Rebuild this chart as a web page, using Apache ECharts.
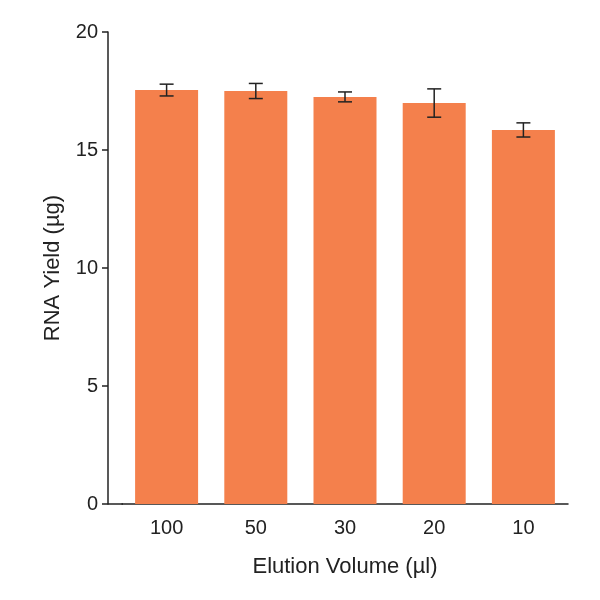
<!DOCTYPE html>
<html><head><meta charset="utf-8">
<script src="https://cdn.jsdelivr.net/npm/echarts@6/dist/echarts.min.js"></script>
<style>html,body{margin:0;background:#fff}#c{width:600px;height:600px}</style>
</head><body><div id="c"></div>
<script>
const categories = ['100','50','30','20','10'];
const yields = [17.54, 17.5, 17.25, 16.99, 15.85];
const errors = [0.25, 0.32, 0.21, 0.6, 0.3];
const chart = echarts.init(document.getElementById('c'));
const font = 'Liberation Sans';
chart.setOption({
  animation:false,
  grid:{left:122,right:32,top:32,bottom:96},
  graphic:[{type:'line',shape:{x1:108,y1:504,x2:123,y2:504},style:{stroke:'#222',lineWidth:1.5}}],
  xAxis:{type:'category',data:categories,
    name:'Elution Volume (µl)',nameLocation:'middle',nameGap:52,
    nameTextStyle:{fontSize:22,color:'#222',fontFamily:font},
    axisLine:{lineStyle:{color:'#222',width:1.5}},axisTick:{show:false},
    axisLabel:{fontSize:20,color:'#222',fontFamily:font,margin:14}},
  yAxis:{type:'value',min:0,max:20,interval:5,offset:14,
    name:'RNA Yield (µg)',nameLocation:'middle',nameGap:44,
    nameTextStyle:{fontSize:22,color:'#222',fontFamily:font},
    axisLine:{show:true,lineStyle:{color:'#222',width:1.5}},
    axisTick:{show:true,length:6,lineStyle:{color:'#222',width:1.5}},
    splitLine:{show:false},
    axisLabel:{fontSize:20,color:'#222',fontFamily:font,margin:10}},
  series:[
    {type:'bar',data:yields,barWidth:63,itemStyle:{color:'#F4804C'}},
    {type:'custom',data:yields.map((v,i)=>[i,v-errors[i],v+errors[i]]),z:10,
     renderItem:(p,api)=>{
       const lo=api.coord([api.value(0),api.value(1)]);
       const hi=api.coord([api.value(0),api.value(2)]);
       const w=7;const st={stroke:'#222',lineWidth:1.5};
       return {type:'group',children:[
         {type:'line',shape:{x1:lo[0],y1:lo[1],x2:hi[0],y2:hi[1]},style:st},
         {type:'line',shape:{x1:lo[0]-w,y1:lo[1],x2:lo[0]+w,y2:lo[1]},style:st},
         {type:'line',shape:{x1:hi[0]-w,y1:hi[1],x2:hi[0]+w,y2:hi[1]},style:st}]};
     }}
  ]
});
</script></body></html>
